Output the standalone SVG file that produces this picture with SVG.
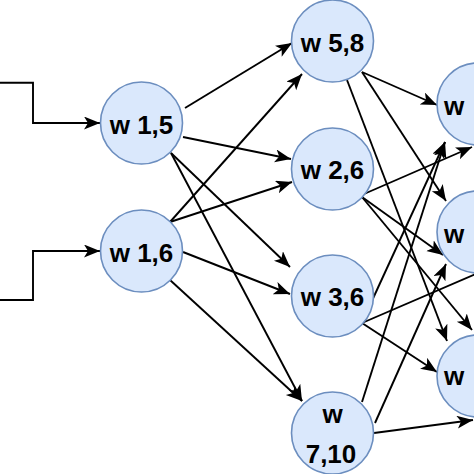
<svg xmlns="http://www.w3.org/2000/svg" width="474" height="474" viewBox="0 0 474 474">
<defs>
<style>
.n{fill:#dae8fc;stroke:#6c8ebf;stroke-width:1.6}
.t{font-family:"Liberation Sans",Arial,sans-serif;font-weight:bold;font-size:26px;fill:#000;text-anchor:middle}
.ts{font-family:"Liberation Sans",Arial,sans-serif;font-weight:bold;font-size:26px;fill:#000}
.e{fill:none;stroke:#000;stroke-width:1.9}
.e line,.e polyline{marker-end:url(#arr)}
</style>
<marker id="arr" markerUnits="userSpaceOnUse" markerWidth="18" markerHeight="14" refX="16" refY="6.5" orient="auto">
<path d="M0,0 L16,6.5 L0,13 L4,6.5 z" fill="#000" stroke="none"/>
</marker>
</defs>
<rect width="474" height="474" fill="#fff"/>
<g id="connectors" class="e">
<polyline points="0,82.7 33,82.7 33,123 100,123"/>
<polyline points="0,300 33,300 33,251 100,251"/>
<line x1="185" y1="108" x2="292" y2="43"/>
<line x1="183" y1="137" x2="291" y2="159"/>
<line x1="171" y1="153" x2="290" y2="267"/>
<line x1="171" y1="153" x2="302" y2="401"/>
<line x1="170" y1="222" x2="302" y2="74"/>
<line x1="170" y1="222" x2="292" y2="182"/>
<line x1="183" y1="252" x2="290" y2="294"/>
<line x1="170" y1="280" x2="302" y2="401"/>
<line x1="362" y1="72" x2="437" y2="105"/>
<line x1="362" y1="72" x2="446" y2="201"/>
<line x1="347" y1="80" x2="447" y2="341"/>
<line x1="364" y1="194" x2="472" y2="147"/>
<line x1="362" y1="197" x2="443" y2="255"/>
<line x1="362" y1="197" x2="472" y2="330"/>
<line x1="370" y1="305" x2="445" y2="142"/>
<line x1="362" y1="323" x2="437" y2="372"/>
<line x1="362" y1="402" x2="445" y2="142"/>
<line x1="375" y1="423" x2="446" y2="264"/>
<line x1="374" y1="433" x2="473" y2="420"/>
<path d="M362,323 L478,273"/>
</g>
<g id="node-w15"><circle class="n" cx="141.5" cy="123" r="41"/><text class="t" x="141.5" y="133.5">w 1,5</text></g>
<g id="node-w16"><circle class="n" cx="141.5" cy="251" r="41"/><text class="t" x="141.5" y="261.5">w 1,6</text></g>
<g id="node-w58"><circle class="n" cx="332.5" cy="41" r="41"/><text class="t" x="332.5" y="51.5">w 5,8</text></g>
<g id="node-w26"><circle class="n" cx="332.5" cy="169" r="41"/><text class="t" x="332.5" y="179">w 2,6</text></g>
<g id="node-w36"><circle class="n" cx="332.5" cy="296" r="41"/><text class="t" x="332.5" y="306">w 3,6</text></g>
<g id="node-w710"><circle class="n" cx="332.5" cy="433" r="41"/><text class="t" x="332.5" y="423">w</text><text class="t" x="331" y="463">7,10</text></g>
<g id="node-r1"><circle class="n" cx="478" cy="104" r="41"/><text class="ts" x="444" y="115">w</text></g>
<g id="node-r2"><circle class="n" cx="478" cy="232" r="41"/><text class="ts" x="444" y="243">w</text></g>
<g id="node-r3"><circle class="n" cx="478" cy="376" r="41"/><text class="ts" x="444" y="385">w</text></g>
</svg>
